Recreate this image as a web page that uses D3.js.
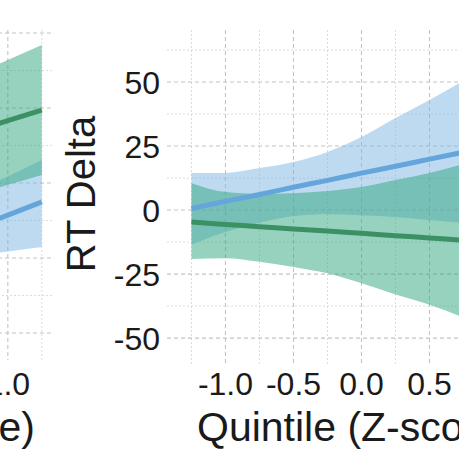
<!DOCTYPE html>
<html>
<head>
<meta charset="utf-8">
<script src="https://cdn.jsdelivr.net/npm/d3@7"></script>
<style>
  body { margin: 0; background: #fff; }
  text { font-family: "Liberation Sans", Arial, sans-serif; fill: #1a1a1a; }
</style>
</head>
<body>
<div id="chart"></div>
<script>
// right panel (fully visible part) -- x in z-score, values RT delta
var xVals     = [-1.25, -1.0, -0.75, -0.5, -0.25, 0.0, 0.25, 0.5, 0.75];
var blueFit   = [0.6, 3.4, 6.1, 8.9, 11.6, 14.4, 17.1, 19.9, 22.6];
var blueLo    = [-13.5, -8.6, -5.0, -2.3, -1.6, -2.0, -2.7, -3.9, -5.0];
var blueHi    = [14.5, 14.5, 16.4, 18.8, 22.7, 28.5, 35.9, 43.0, 50.5];
var greenFit  = [-4.7, -5.6, -6.5, -7.4, -8.2, -9.1, -10.0, -10.9, -11.8];
var greenLo   = [-19.1, -18.8, -20.2, -22.2, -24.7, -28.6, -33.0, -37.0, -42.0];
var greenHi   = [10.5, 7.0, 6.3, 6.6, 7.4, 9.0, 11.7, 14.5, 18.0];

// left panel (only its right edge is in frame)
var leftX        = [0.75, 1.0, 1.25];
var leftBlueFit  = [-15.0, -10.7, -6.3];
var leftBlueLo   = [-24.5, -22.8, -21.3];
var leftBlueHi   = [-3.0, 2.2, 7.7];
var leftGreenFit = [17.3, 20.8, 24.3];
var leftGreenLo  = [-4.0, -0.6, 2.7];
var leftGreenHi  = [36.0, 41.0, 46.0];

var yTicks = [-50, -25, 0, 25, 50];
var yMinor = [-37.5, -12.5, 12.5, 37.5, 62.5];
var xTicks = [-1.0, -0.5, 0.0, 0.5, 1.0];
var xMinor = [-1.25, -0.75, -0.25, 0.25, 0.75, 1.25];

var W = 459, H = 459;
var blueCol = "rgb(125,181,225)", greenCol = "rgb(45,165,125)";
var blueLine = "#64a6dc", greenLine = "#3c9164";

var svg = d3.select("#chart").append("svg")
  .attr("width", W).attr("height", H);
svg.append("rect").attr("width", W).attr("height", H).attr("fill", "#fff");

function panel(id, x, y, d) {
  var x0 = x.range()[0], x1 = x.range()[1];
  var y0 = y.range()[1], y1 = y.range()[0];
  svg.append("clipPath").attr("id", id).append("rect")
    .attr("x", x0).attr("y", y0).attr("width", x1 - x0).attr("height", y1 - y0);
  var g = svg.append("g").attr("clip-path", "url(#" + id + ")");

  // grid
  g.selectAll(".hmin").data(yMinor).enter().append("line")
    .attr("x1", x0).attr("x2", x1).attr("y1", y).attr("y2", y)
    .attr("stroke", "#dcdcdc").attr("stroke-width", 1).attr("stroke-dasharray", "2,2");
  g.selectAll(".vmin").data(xMinor).enter().append("line")
    .attr("y1", y0).attr("y2", y1).attr("x1", x).attr("x2", x)
    .attr("stroke", "#dcdcdc").attr("stroke-width", 1).attr("stroke-dasharray", "2,2");
  g.selectAll(".hmaj").data(yTicks).enter().append("line")
    .attr("x1", x0).attr("x2", x1).attr("y1", y).attr("y2", y)
    .attr("stroke", "#c4c4c4").attr("stroke-width", 1.1).attr("stroke-dasharray", "4,3");
  g.selectAll(".vmaj").data(xTicks).enter().append("line")
    .attr("y1", y0).attr("y2", y1).attr("x1", x).attr("x2", x)
    .attr("stroke", "#c4c4c4").attr("stroke-width", 1.1).attr("stroke-dasharray", "4,3");

  var area = function(lo, hi) {
    return d3.area().curve(d3.curveMonotoneX)
      .x(function(v, i) { return x(d.x[i]); })
      .y0(function(v, i) { return y(lo[i]); })
      .y1(function(v) { return y(v); })(hi);
  };
  var line = d3.line().curve(d3.curveMonotoneX)
    .x(function(v, i) { return x(d.x[i]); })
    .y(function(v) { return y(v); });

  g.append("path").attr("d", area(d.bLo, d.bHi)).attr("fill", blueCol).attr("fill-opacity", 0.5);
  g.append("path").attr("d", area(d.gLo, d.gHi)).attr("fill", greenCol).attr("fill-opacity", 0.5);
  g.append("path").attr("d", line(d.bFit)).attr("fill", "none")
    .attr("stroke", blueLine).attr("stroke-width", 5);
  g.append("path").attr("d", line(d.gFit)).attr("fill", "none")
    .attr("stroke", greenLine).attr("stroke-width", 5);
}

// left panel
var xL = d3.scaleLinear().domain([-1.34, 1.34]).range([-310, 54]);
var yL = d3.scaleLinear().domain([-59, 51]).range([360, 30]);
panel("clipL", xL, yL, {x: leftX, bFit: leftBlueFit, bLo: leftBlueLo, bHi: leftBlueHi,
  gFit: leftGreenFit, gLo: leftGreenLo, gHi: leftGreenHi});

// right panel
var xR = d3.scaleLinear().domain([-1.43, 1.43]).range([167, 556]);
var yR = d3.scaleLinear().domain([-60.5, 70.3]).range([365, 30]);
panel("clipR", xR, yR, {x: xVals, bFit: blueFit, bLo: blueLo, bHi: blueHi,
  gFit: greenFit, gLo: greenLo, gHi: greenHi});

// plain hyphen minus, like the original
var fmt = function(d) { return d.toFixed(1); };

// x tick labels
svg.append("g").selectAll("text").data(xTicks).enter().append("text")
  .attr("x", function(d) { return xR(d); }).attr("y", 395)
  .attr("text-anchor", "middle").attr("font-size", 32)
  .text(function(d) { return fmt(d); });
svg.append("text").attr("x", xL(1.0)).attr("y", 395)
  .attr("text-anchor", "middle").attr("font-size", 32).text(fmt(1.0));

// y tick labels
svg.append("g").selectAll("text").data(yTicks).enter().append("text")
  .attr("x", 160).attr("y", function(d) { return yR(d); })
  .attr("dy", "0.36em").attr("text-anchor", "end").attr("font-size", 32)
  .text(function(d) { return String(d); });

// titles
svg.append("text").attr("transform", "translate(95,194) rotate(-90)")
  .attr("text-anchor", "middle").attr("font-size", 40).text("RT Delta");
svg.append("text").attr("x", 197).attr("y", 441)
  .attr("font-size", 41).text("Quintile (Z-score)");
svg.append("text").attr("x", 35).attr("y", 441).attr("text-anchor", "end")
  .attr("font-size", 41).text("Quintile (Z-score)");
</script>
</body>
</html>
